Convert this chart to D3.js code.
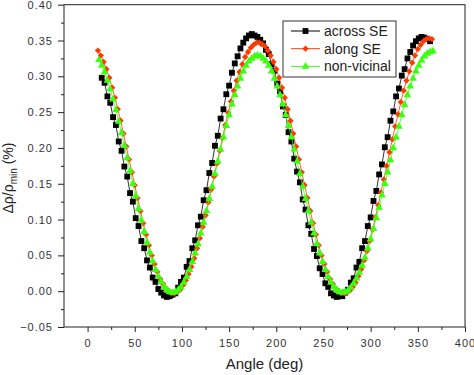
<!DOCTYPE html>
<html>
<head>
<meta charset="utf-8">
<script src="https://cdn.jsdelivr.net/npm/d3@7"></script>
<style>
  body { margin: 0; background: #fff; }
  svg text { font-family: Arial, "Liberation Sans", sans-serif; }
</style>
</head>
<body>
<svg id="chart" width="474" height="375"></svg>
<script>
// angles (deg) and resistance change (%) for each sample
const angAcross = [15,18,21,24,27,30,33,36,39,42,45,48,51,54,57,60,63,66,69,72,75,78,81,84,87,90,93,96,99,102,105,108,111,114,117,120,123,126,129,132,135,138,141,144,147,150,153,156,159,162,165,168,171,174,177,180,183,186,189,192,195,198,201,204,207,210,213,216,219,222,225,228,231,234,237,240,243,246,249,252,255,258,261,264,267,270,273,276,279,282,285,288,291,294,297,300,303,306,309,312,315,318,321,324,327,330,333,336,339,342,345,348,351,354,357,360,363];
const across = [0.298,0.291,0.272,0.263,0.243,0.232,0.209,0.196,0.174,0.160,0.137,0.125,0.102,0.091,0.070,0.060,0.043,0.033,0.019,0.013,0.003,-0.002,-0.006,-0.008,-0.007,-0.005,-0.003,0.005,0.013,0.019,0.034,0.042,0.060,0.071,0.092,0.104,0.127,0.141,0.165,0.179,0.203,0.217,0.241,0.254,0.275,0.287,0.305,0.318,0.328,0.339,0.347,0.353,0.357,0.359,0.357,0.355,0.351,0.346,0.337,0.331,0.317,0.308,0.290,0.279,0.258,0.246,0.222,0.209,0.185,0.167,0.152,0.128,0.114,0.092,0.080,0.059,0.049,0.032,0.024,0.011,0.006,-0.003,-0.006,-0.008,-0.007,-0.007,-0.002,0.002,0.012,0.018,0.033,0.041,0.060,0.070,0.091,0.103,0.126,0.140,0.163,0.177,0.201,0.215,0.238,0.251,0.272,0.283,0.301,0.310,0.325,0.334,0.343,0.349,0.353,0.355,0.354,0.352,0.349];

const angAlong = [11,14,17,20,23,26,29,32,35,38,41,44,47,50,53,56,59,62,65,68,71,74,77,80,83,86,89,92,95,98,101,104,107,110,113,116,119,122,125,128,131,134,137,140,143,146,149,152,155,158,161,164,167,170,173,176,179,182,185,188,191,194,197,200,203,206,209,212,215,218,221,224,227,230,233,236,239,242,245,248,251,254,257,260,263,266,269,272,275,278,281,284,287,290,293,296,299,302,305,308,311,314,317,320,323,326,329,332,335,338,341,344,347,350,353,356,359,362,365];
const along = [0.336,0.329,0.320,0.310,0.298,0.284,0.270,0.254,0.238,0.220,0.202,0.184,0.166,0.148,0.130,0.112,0.095,0.079,0.064,0.050,0.038,0.027,0.017,0.010,0.004,0.000,-0.003,-0.003,-0.001,0.002,0.008,0.015,0.024,0.034,0.046,0.060,0.074,0.090,0.106,0.124,0.142,0.160,0.178,0.196,0.214,0.232,0.249,0.265,0.280,0.294,0.306,0.317,0.327,0.334,0.340,0.344,0.347,0.347,0.345,0.342,0.336,0.329,0.320,0.310,0.298,0.284,0.270,0.254,0.238,0.220,0.202,0.184,0.166,0.148,0.130,0.112,0.095,0.079,0.064,0.050,0.038,0.027,0.017,0.010,0.004,0.000,-0.003,-0.003,-0.002,0.001,0.006,0.012,0.021,0.031,0.043,0.056,0.070,0.086,0.103,0.120,0.138,0.156,0.175,0.194,0.212,0.230,0.247,0.264,0.280,0.294,0.307,0.319,0.329,0.338,0.344,0.349,0.352,0.353,0.352];

const angNon = [12,15,18,21,24,27,30,33,36,39,42,45,48,51,54,57,60,63,66,69,72,75,78,81,84,87,90,93,96,99,102,105,108,111,114,117,120,123,126,129,132,135,138,141,144,147,150,153,156,159,162,165,168,171,174,177,180,183,186,189,192,195,198,201,204,207,210,213,216,219,222,225,228,231,234,237,240,243,246,249,252,255,258,261,264,267,270,273,276,279,282,285,288,291,294,297,300,303,306,309,312,315,318,321,324,327,330,333,336,339,342,345,348,351,354,357,360,363,366];
const nonVicinal = [0.323,0.315,0.306,0.294,0.282,0.268,0.253,0.237,0.221,0.203,0.186,0.168,0.150,0.133,0.115,0.099,0.083,0.068,0.054,0.042,0.030,0.021,0.013,0.006,0.002,-0.001,-0.002,-0.001,0.002,0.006,0.012,0.020,0.030,0.041,0.053,0.066,0.081,0.096,0.112,0.129,0.146,0.164,0.181,0.198,0.215,0.231,0.246,0.261,0.274,0.286,0.297,0.307,0.315,0.321,0.325,0.328,0.329,0.328,0.325,0.321,0.315,0.307,0.297,0.286,0.274,0.261,0.246,0.231,0.215,0.198,0.181,0.164,0.146,0.129,0.112,0.096,0.081,0.066,0.053,0.041,0.030,0.020,0.012,0.006,0.002,-0.001,-0.002,-0.001,0.001,0.005,0.011,0.018,0.026,0.036,0.047,0.060,0.073,0.087,0.102,0.117,0.134,0.150,0.166,0.183,0.200,0.215,0.230,0.246,0.260,0.274,0.286,0.297,0.307,0.315,0.322,0.328,0.332,0.334,0.335];

const seriesNames = ["across SE", "along SE", "non-vicinal"];
const xMajor = [0,50,100,150,200,250,300,350,400];
const xMinor = [25,75,125,175,225,275,325,375];
const yMajor = [-0.05,0.00,0.05,0.10,0.15,0.20,0.25,0.30,0.35,0.40];
const yMinor = [-0.025,0.025,0.075,0.125,0.175,0.225,0.275,0.325,0.375];

const svg = d3.select("#chart");
const pLeft = 64, pRight = 465, pTop = 4.7, pBottom = 327;

const x = d3.scaleLinear().domain([-25, 400]).range([pLeft, pRight]);
const y = d3.scaleLinear().domain([-0.05, 0.40]).range([pBottom, pTop]);

// axes: major + minor ticks, pointing outward
function styleAxis(g) {
  g.select(".domain").remove();
  g.selectAll(".tick line").attr("stroke", "#222");
  g.selectAll(".tick text")
    .attr("fill", "#333")
    .style("font-size", "11px")
    .style("letter-spacing", "1px");
}

svg.append("g")
  .attr("transform", `translate(0,${pBottom})`)
  .call(d3.axisBottom(x).tickValues(xMajor).tickSize(5).tickPadding(7).tickFormat(d3.format("d")))
  .call(styleAxis);
svg.append("g")
  .attr("transform", `translate(0,${pBottom})`)
  .call(d3.axisBottom(x).tickValues(xMinor).tickSize(3).tickFormat(""))
  .call(styleAxis);

svg.append("g")
  .attr("transform", `translate(${pLeft},0)`)
  .call(d3.axisLeft(y).tickValues(yMajor).tickSize(6).tickPadding(5).tickFormat(d3.format(".2f")))
  .call(styleAxis);
svg.append("g")
  .attr("transform", `translate(${pLeft},0)`)
  .call(d3.axisLeft(y).tickValues(yMinor).tickSize(3).tickFormat(""))
  .call(styleAxis);

// frame
svg.append("rect")
  .attr("x", pLeft).attr("y", pTop)
  .attr("width", pRight - pLeft).attr("height", pBottom - pTop)
  .attr("fill", "none").attr("stroke", "#222").attr("stroke-width", 1);

// axis titles
svg.append("text")
  .attr("x", (pLeft + pRight) / 2).attr("y", 369)
  .attr("text-anchor", "middle")
  .attr("fill", "#222")
  .style("font-size", "15px")
  .text("Angle (deg)");

const yTitle = svg.append("text")
  .attr("transform", "translate(13,178) rotate(-90)")
  .attr("text-anchor", "middle")
  .attr("fill", "#222")
  .style("font-size", "14px");
yTitle.append("tspan").text("Δρ/ρ");
yTitle.append("tspan").attr("dy", 4).style("font-size", "10px").text("min");
yTitle.append("tspan").attr("dy", -4).text(" (%)");

// series
const series = [
  { name: seriesNames[0], pts: d3.zip(angAcross, across), color: "#000000", shape: "square" },
  { name: seriesNames[1], pts: d3.zip(angAlong, along), color: "#ff3a00", shape: "diamond" },
  { name: seriesNames[2], pts: d3.zip(angNon, nonVicinal), color: "#3cff10", shape: "triangle" }
];

const symbols = {
  square: d3.symbol().type(d3.symbolSquare).size(34),
  diamond: d3.symbol().type(d3.symbolSquare).size(20),
  triangle: d3.symbol().type(d3.symbolTriangle).size(26)
};

const line = d3.line().x(d => x(d[0])).y(d => y(d[1]));

const plot = svg.append("g");
series.forEach(s => {
  plot.append("path")
    .datum(s.pts)
    .attr("fill", "none")
    .attr("stroke", s.color)
    .attr("stroke-width", 0.8)
    .attr("d", line);
  plot.selectAll(null)
    .data(s.pts)
    .enter()
    .append("path")
    .attr("d", symbols[s.shape])
    .attr("transform", d => `translate(${x(d[0])},${y(d[1])})` + (s.shape === "diamond" ? " rotate(45)" : ""))
    .attr("fill", s.color);
});

// legend
const lg = svg.append("g");
lg.append("rect")
  .attr("x", 283).attr("y", 21)
  .attr("width", 113).attr("height", 56)
  .attr("fill", "#fff").attr("stroke", "#333");

series.forEach((s, i) => {
  const ly = 31 + i * 17.7;
  lg.append("line")
    .attr("x1", 291).attr("x2", 320)
    .attr("y1", ly).attr("y2", ly)
    .attr("stroke", s.color).attr("stroke-width", 1);
  lg.append("path")
    .attr("d", symbols[s.shape])
    .attr("transform", `translate(305.5,${ly})` + (s.shape === "diamond" ? " rotate(45)" : ""))
    .attr("fill", s.color);
  lg.append("text")
    .attr("x", 324).attr("y", ly)
    .attr("dy", "0.35em")
    .attr("fill", "#222")
    .style("font-size", "14px")
    .text(s.name);
});
</script>
</body>
</html>
